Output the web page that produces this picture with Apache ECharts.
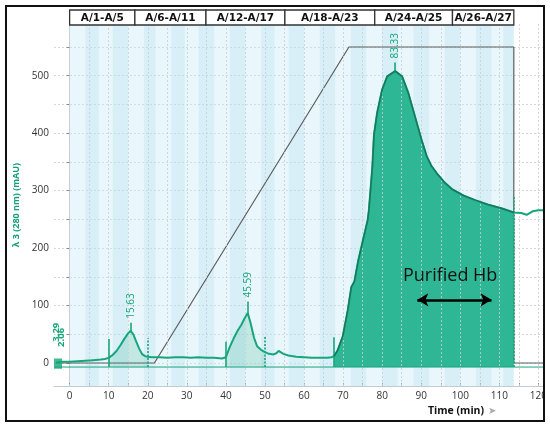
<!DOCTYPE html>
<html><head><meta charset="utf-8">
<script src="https://cdn.jsdelivr.net/npm/echarts@6/dist/echarts.min.js"></script>
<style>html,body{margin:0;padding:0;background:#fff}#c{width:550px;height:427px}</style>
</head><body><div id="c"></div>
<script>
// ---- data ----
const traceT = [-3.5,-3,-2,-1,0,2,4,6,8,9,10,11,12,13,14,15,15.63,16.3,17,17.8,18.5,19.3,20,21,23,25,27,29,31,33,35,37,39,40,41,42,43,44,44.8,45.59,46.3,47.2,48,49,50,51,52.2,52.9,53.5,54.7,56,58,60,62,64,66,67,67.7,68.6,69.9,71.2,72.1,72.9,73.9,75,76.3,76.6,77.5,77.9,78.7,80,81.3,83.33,85.1,86.7,88.4,90.1,91.4,92.6,94,96,98,101,104,107,110.7,113.7,115.6,117,118.5,120,122];
const traceV = [1,2,2,2,2,3,4,5,6,7,9,14,21,31,42,52,56,50,38,25,16,12,11,10,10,9,10,10,9,10,9,9,8,10,28,43,56,67,78,87,70,44,29,23,19,16,15,17,21,16,13,11,10,9,9,9,10,12,22,46,92,132,142,179,211,249,266,342,397,435,476,499,508,499,470,429,388,360,343,330,314,302,291,283,276,269,262,261,258,264,266,266];
const gradientT = [-3.5,21.7,71.5,113.7,113.7,122];
const gradientV = [0,0,550,550,0,0];
const baselineV = -7;
const peakTimes = [15.63,45.59,83.33];
const peakLabels = ['15.63','45.59','83.33'];
const peakApexV = [56,87,508];
const peakTickTopV = [70,107,523];
const peakStarts = [10,40,67.7];
const peakStartTopV = [42,37,45];
const peakEnds = [20,50,113.7];
const peakEndTopV = [43,46,290];
const earlyPeakTimes = [-3.8,-3.3,-2.8,-2.3];
const earlyLabels = [{t:-3.5,v:37,text:'3.29'},{t:-2.1,v:28,text:'2.06'}];
const fractionLabels = ['A/1-A/5','A/6-A/11','A/12-A/17','A/18-A/23','A/24-A/25','A/26-A/27'];
const fractionBounds = [0,16.7,34.9,55.1,78.1,98.0,113.7];
const stripeEdges = [0,4,7.5,11,15,19,22,26,29.5,33,37,41,45,49,52.5,56,60,64,68,72,76,80,84,88,92,96,100,104,108,111,113.7];
const xLabelValues = [0,10,20,30,40,50,60,70,80,90,100,110,120];
const xTickValues = [0,5,10,15,20,25,30,35,40,45,50,55,60,65,70,75,80,85,90,95,100,105,110,115,120];
const yLabelValues = [0,100,200,300,400,500];
const yTickValues = [0,50,100,150,200,250,300,350,400,450,500,550];
const xGridValues = xTickValues;
const arrowFrom = [89,110], arrowTo = [108,110];
const hbLabelPos = [97.4,152];

// ---- build ----
const trace = traceT.map((t,i)=>[t,traceV[i]]);
const gradient = gradientT.map((t,i)=>[t,gradientV[i]]);
const inRange = (a,b)=>trace.filter(p=>p[0]>=a-1e-9 && p[0]<=b+1e-9);
const GREEN = '#17a67b';

const stripes = [];
for (let i=0;i<stripeEdges.length-1;i++){
  stripes.push([{xAxis:stripeEdges[i], itemStyle:{color: i%2 ? 'rgba(180,224,240,0.5)' : 'rgba(200,233,245,0.4)'}},{xAxis:stripeEdges[i+1]}]);
}
const solidMarkers = [], dashMarkers = [];
peakStarts.forEach((t,i)=>solidMarkers.push([{coord:[t,baselineV]},{coord:[t,peakStartTopV[i]]}]));
peakEnds.forEach((t,i)=>dashMarkers.push([{coord:[t,baselineV]},{coord:[t,peakEndTopV[i]]}]));
peakTimes.forEach((t,i)=>solidMarkers.push([{coord:[t,peakApexV[i]-3]},{coord:[t,peakTickTopV[i]]}]));
earlyPeakTimes.forEach(t=>solidMarkers.push([{coord:[t,-10]},{coord:[t,8]}]));

const chart = echarts.init(document.getElementById('c'));
const option = {
  animation:false,
  backgroundColor:'#fff',
  textStyle:{fontFamily:'Open Sans'},
  grid:{left:54,right:-3,top:24,bottom:41},
  xAxis:{type:'value',min:-4,max:122,
    axisLine:{show:true,onZero:false,lineStyle:{color:'#c3cbd0'}},
    axisTick:{show:true,inside:true,length:3,customValues:xTickValues,lineStyle:{color:'#888'}},
    axisLabel:{customValues:xLabelValues,color:'#333',fontSize:10,margin:5,fontFamily:'Open Sans'},
    splitLine:{show:false}},
  yAxis:{type:'value',min:-40,max:590,interval:20,
    name:'λ 3 (280 nm) (mAU)',nameLocation:'middle',nameGap:30,nameRotate:90,
    nameTextStyle:{color:'#14a077',fontWeight:'bold',fontSize:9,fontFamily:'Open Sans'},
    axisLine:{show:true,lineStyle:{color:'#c3cbd0'}},
    axisTick:{show:true,length:3,customValues:yTickValues,lineStyle:{color:'#888'}},
    axisLabel:{customValues:yLabelValues,color:'#333',fontSize:10,margin:5,fontFamily:'Open Sans'},
    splitLine:{show:true,lineStyle:{color:'#c7d0d5',type:[2,2],width:0.8}}},
  series:[
    {name:'bg',type:'line',data:[[-4,-40]],symbol:'none',lineStyle:{opacity:0},z:1,silent:true,
     markArea:{silent:true,data:stripes},
     markLine:{silent:true,symbol:['none','none'],label:{show:false},
       lineStyle:{color:'#c7d0d5',type:[2,2],width:0.8},
       data:xGridValues.map(x=>({xAxis:x}))}},
    {name:'gradient',type:'line',data:gradient,symbol:'none',z:2,
     lineStyle:{color:'#5e5e5e',width:1.2}},
    {name:'fill1',type:'line',data:inRange(peakStarts[0],peakEnds[0]),symbol:'none',z:3,
     lineStyle:{width:0},areaStyle:{origin:baselineV,color:'rgba(40,180,140,0.28)'}},
    {name:'fill2',type:'line',data:inRange(peakStarts[1],peakEnds[1]),symbol:'none',z:3,
     lineStyle:{width:0},areaStyle:{origin:baselineV,color:'rgba(40,180,140,0.28)'}},
    {name:'fill3',type:'line',data:inRange(peakStarts[2],peakEnds[2]),symbol:'none',z:3,
     lineStyle:{width:0},areaStyle:{origin:baselineV,color:'#1bb089',opacity:0.9}},
    {name:'baseline',type:'line',data:[[-4,baselineV],[122,baselineV]],symbol:'none',z:4,
     lineStyle:{color:GREEN,width:1}},
    {name:'trace',type:'line',data:trace,symbol:'none',z:5,
     lineStyle:{color:GREEN,width:2}},
    {name:'outline',type:'line',data:inRange(peakStarts[2],peakEnds[2]),symbol:'none',z:6,
     lineStyle:{color:'#157a5d',width:1.5}},
    {name:'markers',type:'line',data:[],symbol:'none',z:7,
     markLine:{silent:true,symbol:['none','none'],label:{show:false},
       lineStyle:{color:GREEN,width:1.6,type:'solid'},data:solidMarkers}},
    {name:'markersDash',type:'line',data:[],symbol:'none',z:7,
     markLine:{silent:true,symbol:['none','none'],label:{show:false},
       lineStyle:{color:GREEN,width:1.6,type:[2,1.5]},data:dashMarkers}},
    {name:'arrow',type:'line',data:[],symbol:'none',z:8,
     markLine:{silent:true,symbol:['arrow','arrow'],symbolSize:[10,11],label:{show:false},
       lineStyle:{color:'#000',width:2.5,type:'solid'},
       data:[[{coord:arrowFrom},{coord:arrowTo}]]}}
  ]
};
chart.setOption(option);

const px = (t,v)=>chart.convertToPixel({gridIndex:0},[t,v]);
const g = [];
for (let i=0;i<fractionLabels.length;i++){
  const x0 = px(fractionBounds[i],0)[0], x1 = px(fractionBounds[i+1],0)[0];
  g.push({type:'rect',shape:{x:x0,y:10,width:x1-x0,height:15},style:{fill:'#fff',stroke:'#333',lineWidth:1.3},z:10});
  g.push({type:'text',x:(x0+x1)/2,y:17.8,style:{text:fractionLabels[i],align:'center',verticalAlign:'middle',font:'bold 10.5px "DejaVu Sans"',fill:'#111'},z:11});
}
peakTimes.forEach((t,i)=>{
  const p = px(t,peakTickTopV[i]);
  g.push({type:'text',x:p[0],y:p[1]-4,rotation:Math.PI/2,style:{text:peakLabels[i],align:'left',verticalAlign:'middle',font:'10px "Open Sans"',fill:GREEN},z:12});
});
earlyLabels.forEach(l=>{
  const p = px(l.t,l.v);
  g.push({type:'text',x:p[0],y:p[1],rotation:Math.PI/2,style:{text:l.text,align:'left',verticalAlign:'middle',font:'bold 9.5px "Open Sans"',fill:GREEN},z:12});
});
const hp = px(hbLabelPos[0],hbLabelPos[1]);
g.push({type:'text',x:hp[0],y:hp[1],style:{text:'Purified Hb',align:'center',verticalAlign:'middle',font:'18px "Open Sans"',fill:'#111'},z:12});
g.push({type:'text',x:428,y:411,style:{text:'Time (min)',align:'left',verticalAlign:'middle',font:'bold 10.5px "Open Sans"',fill:'#111'},z:12});
g.push({type:'text',x:488,y:411,style:{text:'➤',align:'left',verticalAlign:'middle',font:'10px "DejaVu Sans"',fill:'#aaa'},z:12});
g.push({type:'rect',shape:{x:545,y:0,width:10,height:427},style:{fill:'#fff'},z:20});
g.push({type:'rect',shape:{x:6,y:6,width:538,height:415},style:{fill:null,stroke:'#111',lineWidth:2},z:21});
chart.setOption({graphic:g});
</script></body></html>
